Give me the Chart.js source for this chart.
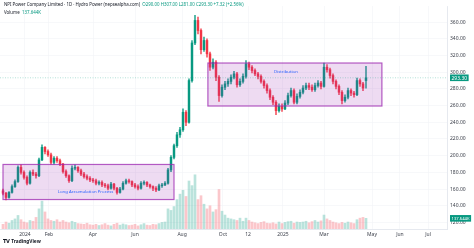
<!DOCTYPE html>
<html>
<head>
<meta charset="utf-8">
<script src="https://cdn.jsdelivr.net/npm/chart.js@4.4.1/dist/chart.umd.min.js"></script>
<style>
  body { margin: 0; background: #fff; }
  #wrap { position: relative; width: 474px; height: 248px; }
  .hdr { position: absolute; left: 4px; font-family: 'Noto Sans', sans-serif; font-size: 4.4px; color: #131722; white-space: nowrap; }
  .up { color: #089981; }
  #logo { position: absolute; left: 3px; top: 238px; font-family: 'Noto Sans', sans-serif; font-size: 4.8px; font-weight: bold; color: #131722; }
</style>
</head>
<body>
<div id="wrap">
  <canvas id="chart" width="474" height="248"></canvas>
  <div class="hdr" style="top:1px">NPI Power Company Limited · 1D · Hydro Power (nepsealpha.com)&nbsp;&nbsp;<span class="up">O290.00 H307.00 L281.00 C293.30 +7.32 (+2.56%)</span></div>
  <div class="hdr" style="top:9px">Volume&nbsp;&nbsp;<span class="up">137.644K</span></div>
  <div id="logo">𝗧𝗩 TradingView</div>
</div>
<script>
// daily candles, Dec 2023 .. Apr 2025 (sampled)
const opens = [158,155,150,156,163,169,186,180,174,167, 180,178,176,195,210,205,201,192,197,194,
    190,181,176,170,185,186,182,178,175,173, 171,170,167,168,165,164,161,166,161,156,
    160,167,170,169,165,163,161,167,168,165, 163,161,159,164,165,167,183,198,212,225,
    231,252,240,290,335,362,350,327,338,322, 306,312,294,272,282,286,289,294,298,285,
    289,295,310,306,302,298,295,289,284,278, 270,264,254,259,256,263,272,278,264,271,
    276,281,284,282,279,284,287,283,306,303, 296,289,283,276,266,270,278,275,273,290,
    286,290];
const closes = [155,150,156,163,169,186,180,174,167,180, 178,176,195,210,205,201,192,197,194,190,
    181,176,170,185,186,182,178,175,173,171, 170,167,168,165,164,161,166,161,156,160,
    167,170,169,165,163,161,167,168,165,163, 161,159,164,165,167,183,198,212,225,231,
    252,240,290,335,362,350,327,338,322,306, 312,294,272,282,286,289,294,298,285,289,
    295,310,306,302,298,295,289,284,278,270, 264,254,259,256,263,272,278,264,271,276,
    281,284,282,279,284,287,283,306,303,296, 289,283,276,266,270,278,275,273,290,286,
    281,293.3];
const highs = [160,156,157,165,171,188,189,182,176,182, 183,180,197,213,211,207,203,199,199,196,
    191,183,177,188,189,187,184,180,177,175, 173,172,170,170,167,166,168,167,162,162,
    169,172,172,170,167,165,169,170,169,166, 164,163,166,167,169,185,200,214,228,234,
    256,254,292,338,368,366,352,342,340,324, 316,314,296,285,289,292,297,301,300,292,
    298,314,312,308,304,300,297,291,286,280, 272,266,262,262,266,275,281,280,274,279,
    284,287,287,285,287,290,289,311,309,305, 298,291,285,278,273,281,280,277,293,292,
    288,307];
const lows = [153,147,149,155,162,168,178,172,165,166, 176,173,175,194,202,199,190,190,192,188,
    179,174,168,169,183,180,176,173,171,169, 168,165,165,163,162,159,160,159,154,155,
    159,166,167,163,161,159,160,165,163,161, 158,157,158,162,164,166,181,196,210,222,
    229,236,239,288,333,346,322,325,318,302, 304,290,265,270,279,283,286,292,282,283,
    287,293,303,299,296,292,287,281,275,267, 261,249,252,253,255,261,270,262,262,269,
    274,279,279,277,277,282,280,282,300,293, 286,280,273,262,264,268,272,270,272,283,
    278,281];
// volume in thousands
const volumes = [60,90,75,110,130,175,120,90,80,110, 100,150,260,360,220,130,110,100,120,90,
    110,90,80,100,85,70,65,60,75,55, 50,60,45,55,70,50,40,60,75,50,
    65,55,45,50,60,40,55,70,50,45, 60,55,70,85,90,260,240,290,380,450,
    500,420,620,560,700,380,430,320,260,300, 220,250,510,230,180,140,130,120,110,140,
    100,140,110,90,80,70,85,95,75,70, 80,65,90,70,85,95,100,75,90,85,
    90,100,80,95,110,90,105,180,130,110, 90,80,70,85,75,90,80,70,120,140,
    150,137.644];

const timeTickLabels = ['2024', 'Feb', 'Apr', 'Jun', 'Aug', 'Oct', '12', '2025', 'Mar', 'May', 'Jun', 'Jul'];
const timeTickPos = [7.3, 15.3, 30, 44, 59.7, 73.3, 81.7, 93.3, 107, 123, 132.3, 141.7];
const priceTicks = [120, 140, 160, 180, 200, 220, 240, 260, 280, 300, 320, 340, 360];

// drawn zones: [startBar, endBar, top price, bottom price]
const zoneNames = ['Long Accumulation Process', 'Distribution'];
const zoneBounds = [[0, 57, 189.5, 147.5], [68.3, 126.3, 311, 259.5]];
const zoneLabelAt = [[27.5, 156.6], [94.3, 300.4]];

const lastPrice = 293.30;
const lastVolume = 137.644;

const UP = '#089981';
const DOWN = '#f23645';

const colors = closes.map((c, i) => c >= opens[i] ? UP : DOWN);
const volColors = closes.map((c, i) => c >= opens[i] ? 'rgba(8,153,129,0.28)' : 'rgba(242,54,69,0.28)');

const bodies = closes.map((c, i) => ({ x: i, y: [opens[i], c] }));
const wicks = closes.map((c, i) => ({ x: i, y: [lows[i], highs[i]] }));
const vols = volumes.map((v, i) => ({ x: i, y: v }));

function badge(ctx, text, x, y, size) {
    ctx.font = size + 'px "Noto Sans"';
    const w = ctx.measureText(text).width + 3;
    ctx.fillStyle = UP;
    ctx.fillRect(x, y - 3.3, w, 6.6);
    ctx.fillStyle = '#fff';
    ctx.textBaseline = 'middle';
    ctx.textAlign = 'left';
    ctx.fillText(text, x + 1.5, y + 0.3);
}

const overlays = {
    id: 'overlays',
    afterDatasetsDraw(chart) {
        const ctx = chart.ctx;
        const xs = chart.scales.x, ys = chart.scales.y;
        const area = chart.chartArea;
        ctx.save();
        zoneBounds.forEach((z, k) => {
            const x0 = xs.getPixelForValue(z[0]), x1 = xs.getPixelForValue(z[1]);
            const y0 = ys.getPixelForValue(z[2]), y1 = ys.getPixelForValue(z[3]);
            ctx.fillStyle = 'rgba(156,39,176,0.17)';
            ctx.fillRect(x0, y0, x1 - x0, y1 - y0);
            ctx.strokeStyle = 'rgba(156,39,176,0.75)';
            ctx.lineWidth = 1.2;
            ctx.strokeRect(x0, y0, x1 - x0, y1 - y0);
            ctx.fillStyle = '#2962ff';
            ctx.font = '4.3px "Noto Sans"';
            ctx.textAlign = 'center';
            ctx.textBaseline = 'middle';
            ctx.fillText(zoneNames[k], xs.getPixelForValue(zoneLabelAt[k][0]), ys.getPixelForValue(zoneLabelAt[k][1]));
        });
        // last price line
        const yl = ys.getPixelForValue(lastPrice);
        ctx.strokeStyle = 'rgba(8,153,129,0.5)';
        ctx.lineWidth = 0.6;
        ctx.setLineDash([1, 1.5]);
        ctx.beginPath();
        ctx.moveTo(area.left, yl);
        ctx.lineTo(area.right, yl);
        ctx.stroke();
        ctx.restore();
    },
    afterDraw(chart) {
        const ctx = chart.ctx;
        const area = chart.chartArea;
        ctx.save();
        badge(ctx, lastPrice.toFixed(2), area.right + 3, chart.scales.y.getPixelForValue(lastPrice), 5);
        badge(ctx, lastVolume.toFixed(3) + 'K', area.right + 3, chart.scales.yVol.getPixelForValue(lastVolume), 4.2);
        ctx.restore();
    }
};

new Chart(document.getElementById('chart').getContext('2d'), {
    type: 'bar',
    data: {
        datasets: [{
            label: 'Body',
            data: bodies,
            backgroundColor: colors,
            barThickness: 1.8,
            minBarLength: 0.8,
            grouped: false,
            order: 1
        },
        {
            label: 'Wick',
            data: wicks,
            backgroundColor: colors,
            barThickness: 0.7,
            grouped: false,
            order: 2
        },
        {
            label: 'Volume',
            data: vols,
            backgroundColor: volColors,
            barThickness: 2,
            grouped: false,
            yAxisID: 'yVol',
            order: 3
        }]
    },
    options: {
        responsive: false,
        animation: false,
        events: [],
        layout: { padding: 0 },
        plugins: {
            legend: { display: false },
            tooltip: { enabled: false }
        },
        scales: {
            x: {
                type: 'linear',
                offset: false,
                min: -1,
                max: 148,
                afterBuildTicks: scale => { scale.ticks = timeTickPos.map(v => ({ value: v })); },
                afterFit: scale => { scale.height = 19; },
                grid: { color: '#f2f3f6', lineWidth: 0.6, drawTicks: false, offset: false },
                border: { color: '#e0e3eb', width: 0.8 },
                ticks: {
                    autoSkip: false,
                    maxRotation: 0,
                    padding: 2.5,
                    color: '#3b3f4a',
                    font: { size: 5, family: 'Noto Sans' },
                    callback: (value, index) => timeTickLabels[index]
                }
            },
            y: {
                position: 'right',
                min: 112.2,
                max: 379.3,
                afterBuildTicks: scale => { scale.ticks = priceTicks.map(v => ({ value: v })); },
                afterFit: scale => { scale.width = 27; },
                grid: { color: '#f2f3f6', lineWidth: 0.6, drawTicks: false },
                border: { color: '#e0e3eb', width: 0.8 },
                ticks: {
                    padding: 3,
                    color: '#3b3f4a',
                    font: { size: 5, family: 'Noto Sans' },
                    callback: v => v.toFixed(2)
                }
            },
            yVol: {
                display: false,
                min: 0,
                max: 2880
            }
        }
    },
    plugins: [overlays]
});
</script>
</body>
</html>
